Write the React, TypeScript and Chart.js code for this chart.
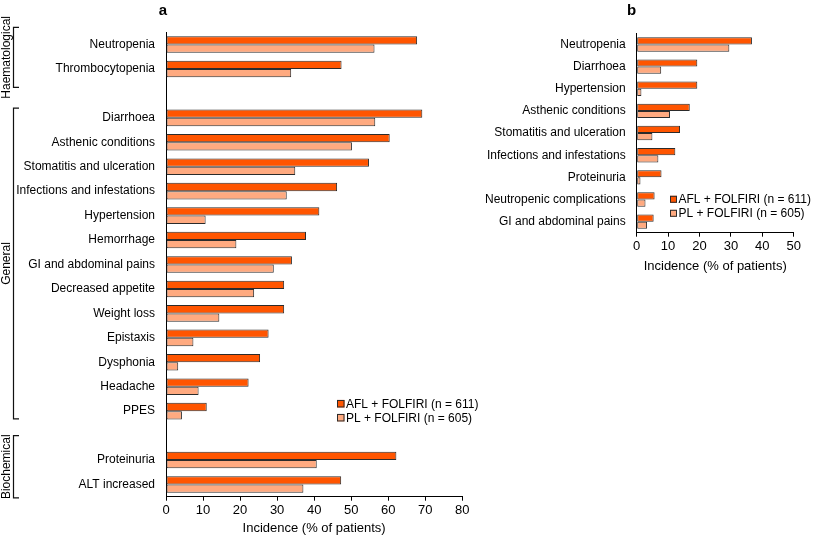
import React, { useEffect, useRef } from 'react';
import { Chart, registerables } from 'chart.js';

Chart.register(...registerables);

const FONT = '"Liberation Sans", Arial, Helvetica, sans-serif';

// ---------- Data: panel a (all grades) ----------
const leftCategories = [
  'Neutropenia',
  'Thrombocytopenia',
  '',
  'Diarrhoea',
  'Asthenic conditions',
  'Stomatitis and ulceration',
  'Infections and infestations',
  'Hypertension',
  'Hemorrhage',
  'GI and abdominal pains',
  'Decreased appetite',
  'Weight loss',
  'Epistaxis',
  'Dysphonia',
  'Headache',
  'PPES',
  '',
  'Proteinuria',
  'ALT increased',
];
const leftAFL = [67.8, 47.4, null, 69.2, 60.4, 54.8, 46.2, 41.4, 37.8, 34.0, 31.9, 31.9, 27.7, 25.4, 22.3, 11.0, null, 62.2, 47.3];
const leftPL = [56.3, 33.8, null, 56.5, 50.2, 34.9, 32.6, 10.7, 19.0, 29.1, 23.8, 14.4, 7.4, 3.3, 8.8, 4.3, null, 40.7, 37.1];
const leftXTicksMax = 80;

// ---------- Data: panel b (grade 3-4) ----------
const rightCategories = [
  'Neutropenia',
  'Diarrhoea',
  'Hypertension',
  'Asthenic conditions',
  'Stomatitis and ulceration',
  'Infections and infestations',
  'Proteinuria',
  'Neutropenic complications',
  'GI and abdominal pains',
];
const rightAFL = [36.7, 19.3, 19.3, 16.9, 13.8, 12.3, 7.9, 5.7, 5.4];
const rightPL = [29.5, 7.8, 1.5, 10.6, 5.0, 6.9, 1.2, 2.8, 3.3];
const rightXTicksMax = 50;

const seriesLabels = ['AFL + FOLFIRI (n = 611)', 'PL + FOLFIRI (n = 605)'];
const axisTitle = 'Incidence (% of patients)';

const groupLabels = ['Haematological', 'General', 'Biochemical'];
const groupFrom = [0, 3, 17];
const groupTo = [1, 15, 18];

// ---------- Styles ----------
const AFL_COLOR = '#FF5500';
const PL_COLOR = '#FFAA80';
const BAR_BORDER = '#2b2b2b';

const panelLabelPlugin = {
  id: 'panelLabel',
  afterDraw(chart: any, _args: any, opts: any) {
    if (!opts || !opts.text) return;
    const ctx = chart.ctx;
    ctx.save();
    ctx.font = `bold 15px ${FONT}`;
    ctx.fillStyle = '#000';
    ctx.textAlign = 'center';
    ctx.textBaseline = 'middle';
    ctx.fillText(opts.text, chart.chartArea.left + opts.dx, opts.y);
    ctx.restore();
  },
};

const boxLegendPlugin = {
  id: 'boxLegend',
  afterDraw(chart: any, _args: any, opts: any) {
    if (!opts || opts.x == null) return;
    const ctx = chart.ctx;
    ctx.save();
    ctx.font = `12px ${FONT}`;
    ctx.textAlign = 'left';
    ctx.textBaseline = 'middle';
    chart.data.datasets.forEach((ds: any, i: number) => {
      const cy = opts.y + i * opts.rowGap;
      const b = opts.box;
      ctx.fillStyle = ds.backgroundColor;
      ctx.fillRect(opts.x, cy - b / 2, b, b);
      ctx.strokeStyle = BAR_BORDER;
      ctx.lineWidth = 1;
      ctx.strokeRect(opts.x + 0.5, cy - b / 2 + 0.5, b - 1, b - 1);
      ctx.fillStyle = '#000';
      ctx.fillText(ds.label, opts.x + b + 1.5, cy + 0.5);
    });
    ctx.restore();
  },
};

const bracketsPlugin = {
  id: 'groupBrackets',
  afterDraw(chart: any, _args: any, opts: any) {
    if (!opts || !opts.groups) return;
    const ctx = chart.ctx;
    const ys = chart.scales.y;
    ctx.save();
    ctx.strokeStyle = '#111';
    ctx.lineWidth = 1.2;
    ctx.fillStyle = '#000';
    ctx.font = `12px ${FONT}`;
    ctx.textAlign = 'center';
    ctx.textBaseline = 'middle';
    opts.groups.forEach((g: any) => {
      const y1 = ys.getPixelForValue(g.from - g.padTop);
      const y2 = ys.getPixelForValue(g.to + g.padBottom);
      ctx.beginPath();
      ctx.moveTo(opts.tickX, y1);
      ctx.lineTo(opts.lineX, y1);
      ctx.lineTo(opts.lineX, y2);
      ctx.lineTo(opts.tickX, y2);
      ctx.stroke();
      ctx.save();
      ctx.translate(opts.textX, (y1 + y2) / 2);
      ctx.rotate(-Math.PI / 2);
      ctx.fillText(g.label, 0, 0);
      ctx.restore();
    });
    ctx.restore();
  },
};

function makeConfig(
  categories: string[],
  afl: (number | null)[],
  pl: (number | null)[],
  xMax: number,
  p: any
): any {
  return {
    type: 'bar',
    data: {
      labels: categories,
      datasets: [
        {
          label: seriesLabels[0],
          data: afl,
          backgroundColor: AFL_COLOR,
          borderColor: BAR_BORDER,
          borderWidth: 1,
          borderSkipped: false,
          barPercentage: 1,
          categoryPercentage: p.catPct,
        },
        {
          label: seriesLabels[1],
          data: pl,
          backgroundColor: PL_COLOR,
          borderColor: BAR_BORDER,
          borderWidth: 1,
          borderSkipped: false,
          barPercentage: 1,
          categoryPercentage: p.catPct,
        },
      ],
    },
    options: {
      indexAxis: 'y',
      animation: false,
      responsive: true,
      maintainAspectRatio: false,
      devicePixelRatio: 1,
      layout: { padding: { top: p.padTop, right: p.padRight, left: 0, bottom: 0 } },
      plugins: {
        legend: { display: false },
        tooltip: { enabled: false },
        title: { display: false },
        panelLabel: p.panelLabel,
        boxLegend: p.legend,
        groupBrackets: p.brackets || {},
      },
      scales: {
        x: {
          type: 'linear',
          min: 0,
          max: xMax,
          ticks: {
            stepSize: 10,
            color: '#000',
            font: { family: FONT, size: 13 },
            padding: 2,
          },
          grid: {
            display: true,
            drawOnChartArea: false,
            drawTicks: true,
            tickLength: 4,
            color: '#000',
            lineWidth: 1,
          },
          border: { display: true, color: '#000', width: 1 },
          title: {
            display: true,
            text: axisTitle,
            color: '#000',
            font: { family: FONT, size: 13 },
            padding: { top: 0, bottom: p.titlePadBottom },
          },
          afterFit: (scale: any) => {
            scale.height = p.xAxisHeight;
          },
        },
        y: {
          type: 'category',
          ticks: {
            color: '#000',
            font: { family: FONT, size: 12 },
            padding: 11,
            autoSkip: false,
          },
          grid: { display: false, drawTicks: false },
          border: { display: true, color: '#000', width: 1 },
          afterFit: (scale: any) => {
            scale.width = p.yAxisWidth;
          },
        },
      },
    },
    plugins: [panelLabelPlugin, boxLegendPlugin, bracketsPlugin],
  };
}

function BarPanel(props: { width: number; height: number; left: number; top: number; config: any }) {
  const ref = useRef<HTMLCanvasElement | null>(null);
  useEffect(() => {
    if (!ref.current) return;
    const chart = new Chart(ref.current, props.config);
    return () => chart.destroy();
  }, []);
  return (
    <div
      style={{
        position: 'absolute',
        left: props.left,
        top: props.top,
        width: props.width,
        height: props.height,
      }}
    >
      <canvas ref={ref} />
    </div>
  );
}

export default function App() {
  const leftConfig = makeConfig(leftCategories, leftAFL, leftPL, leftXTicksMax, {
    catPct: 0.68,
    padTop: 32.3,
    padRight: 27.7,
    xAxisHeight: 41.3,
    yAxisWidth: 166,
    titlePadBottom: 1.8,
    panelLabel: { text: 'a', dx: -3, y: 11 },
    legend: { x: 337, y: 403.7, rowGap: 14, box: 7.5 },
    brackets: {
      lineX: 13.5,
      tickX: 19,
      textX: 6.5,
      groups: groupLabels.map((label, i) => ({
        label,
        from: groupFrom[i],
        to: groupTo[i],
        padTop: i === 2 ? 1.0 : i === 0 ? 0.7 : 0.4,
        padBottom: i === 2 ? 0.55 : i === 0 ? 0.75 : 0.32,
      })),
    },
  });
  const rightConfig = makeConfig(rightCategories, rightAFL, rightPL, rightXTicksMax, {
    catPct: 0.65,
    padTop: 33.4,
    padRight: 20.3,
    xAxisHeight: 44.3,
    yAxisWidth: 166.7,
    titlePadBottom: 2.5,
    panelLabel: { text: 'b', dx: -5, y: 11 },
    legend: { x: 200, y: 199.3, rowGap: 14, box: 7 },
  });
  return (
    <div
      style={{
        position: 'fixed',
        left: 0,
        top: 0,
        width: 814,
        height: 538,
        background: '#fff',
      }}
    >
      <BarPanel left={0} top={0} width={490} height={538} config={leftConfig} />
      <BarPanel left={470} top={0} width={344} height={277} config={rightConfig} />
    </div>
  );
}
